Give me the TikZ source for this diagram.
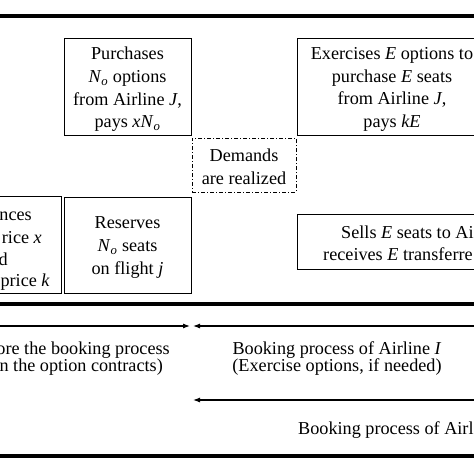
\documentclass[tikz,border=0pt]{standalone}
\usepackage{fontspec}
\setmainfont{Liberation Serif}
\usetikzlibrary{arrows.meta}
\tikzset{
  box/.style={draw, line width=1pt, rectangle, inner sep=0pt, align=center,
              font=\fontsize{18.2}{22.6}\selectfont},
  dbox/.style={box, dash pattern=on 4pt off 2pt on 1pt off 2pt},
  txt/.style={inner sep=0pt, font=\fontsize{18.2}{17}\selectfont},
  thick rule/.style={line width=3.4pt},
  tl/.style={line width=1.1pt, -{Latex[length=7pt,width=5pt]}},
}
\newcommand{\No}{\textit{N}\textsubscript{\textit{o}}}
\begin{document}
\begin{tikzpicture}[x=1pt,y=-1pt]
\useasboundingbox (0,0) rectangle (474,474);
\fill[white] (0,0) rectangle (474,474);
\clip (0,0) rectangle (474,474);
% rules
\coordinate (t0) at (0,16);   \coordinate (t1) at (474,16);
\coordinate (m0) at (0,304);  \coordinate (m1) at (474,304);
\coordinate (b0) at (0,456);  \coordinate (b1) at (474,456);
\draw[thick rule] (t0) -- (t1);
\draw[thick rule] (m0) -- (m1);
\draw[thick rule] (b0) -- (b1);
% boxes
\node[box, minimum width=127pt, minimum height=97pt] (purch) at (127.5,86.5) {};
\node[box, draw=none, anchor=center] (purcht) at (127.5,89.5)
  {Purchases\\\No{} options\\from Airline \textit{J},\\pays \textit{x}\No};
\node[box, minimum width=190pt, minimum height=97pt] (exer) at (392,86.5) {};
\node[box, draw=none, anchor=center] (exert) at (392,89.5)
  {Exercises \textit{E} options to\\purchase \textit{E} seats\\from Airline \textit{J},\\pays \textit{kE}};
\node[dbox, minimum width=104pt, minimum height=54pt] (dem) at (244,165) {};
\node[box, draw=none] (demt) at (244,167) {Demands\\are realized};
\node[box, minimum width=127pt, minimum height=96pt] (res) at (127.5,245) {};
\node[box, draw=none] (rest) at (127.5,247.5)
  {Reserves\\\textit{N}\textsubscript{\textit{o}} seats\\on flight \textit{j}};
\node[box, minimum width=140pt, minimum height=97pt] (left) at (-9,244.5) {};
\node[box, minimum width=240pt, minimum height=55pt] (sells) at (417,241.5) {};
% fragments of clipped text
\node[txt, anchor=base east] (l1) at (32,220) {nces};
\node[txt, anchor=base east] (l2) at (42,243) {rice \textit{x}};
\node[txt, anchor=base east] (l3) at (8,265) {d};
\node[txt, anchor=base east] (l4) at (50,286) {price \textit{k}};
\node[txt, anchor=base west] (s1) at (341,238) {Sells \textit{E} seats to Ai};
\node[txt, anchor=base west] (s2) at (323,260) {receives \textit{E} transferre};
% arrows
\coordinate (a0) at (0,326);
\coordinate (a1) at (190,326);
\coordinate (a2) at (474,326);
\coordinate (a3) at (193,326);
\coordinate (c2) at (474,400);
\coordinate (c3) at (193,400);
\draw[tl] (a0) -- (a1);
\draw[tl] (a2) -- (a3);
\draw[tl] (c2) -- (c3);
% labels
\node[txt, anchor=base east] (p1) at (170,354) {ore the booking process};
\node[txt, anchor=base east] (p2) at (163,371) {n the option contracts)};
\node[txt, anchor=base] (q1) at (337,354) {Booking process of Airline \textit{I}};
\node[txt, anchor=base] (q2) at (337,371) {(Exercise options, if needed)};
\node[txt, anchor=base west] (r1) at (298,434) {Booking process of Airl};
\end{tikzpicture}
\end{document}
